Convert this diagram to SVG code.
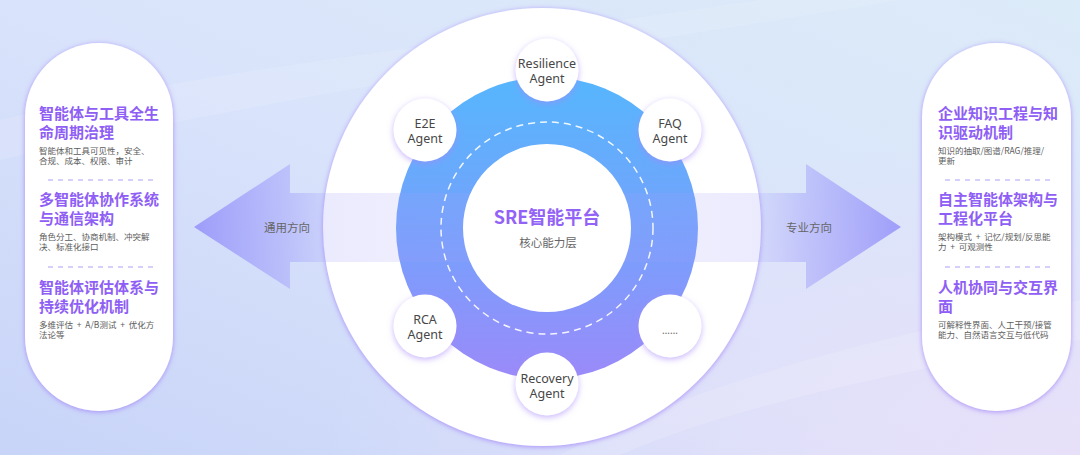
<svg xmlns="http://www.w3.org/2000/svg" width="1080" height="455" viewBox="0 0 1080 455">
<defs>
<linearGradient id="bg" x1="0" y1="1" x2="1" y2="0">
<stop offset="0" stop-color="#c8d4f8"/>
<stop offset="0.5" stop-color="#d9e3fb"/>
<stop offset="1" stop-color="#dcebf8"/>
</linearGradient>
<radialGradient id="bgBR" cx="1" cy="1" r="0.7">
<stop offset="0" stop-color="#e8e0f9" stop-opacity="1"/>
<stop offset="1" stop-color="#e8e0f9" stop-opacity="0"/>
</radialGradient>
<linearGradient id="ring" x1="0" y1="77" x2="0" y2="379" gradientUnits="userSpaceOnUse">
<stop offset="0" stop-color="#56b6fd"/>
<stop offset="0.5" stop-color="#74a2fc"/>
<stop offset="1" stop-color="#9b8af9"/>
</linearGradient>
<linearGradient id="arrL" x1="194" y1="0" x2="545" y2="0" gradientUnits="userSpaceOnUse">
<stop offset="0" stop-color="#8f8cfa" stop-opacity="0.8"/>
<stop offset="0.27" stop-color="#9693fa" stop-opacity="0.4"/>
<stop offset="0.38" stop-color="#9d9afa" stop-opacity="0.2"/>
<stop offset="1" stop-color="#a8a2fa" stop-opacity="0.14"/>
</linearGradient>
<linearGradient id="arrR" x1="901" y1="0" x2="545" y2="0" gradientUnits="userSpaceOnUse">
<stop offset="0" stop-color="#8f8cfa" stop-opacity="0.8"/>
<stop offset="0.27" stop-color="#9693fa" stop-opacity="0.4"/>
<stop offset="0.38" stop-color="#9d9afa" stop-opacity="0.2"/>
<stop offset="1" stop-color="#a8a2fa" stop-opacity="0.14"/>
</linearGradient>
<filter id="glow" x="-20%" y="-20%" width="140%" height="140%">
<feDropShadow dx="0" dy="1" stdDeviation="2.5" flood-color="#9d7cf8" flood-opacity="0.8"/>
</filter>
<filter id="aglow" x="-30%" y="-30%" width="160%" height="160%">
<feDropShadow dx="0" dy="2" stdDeviation="3" flood-color="#a585f9" flood-opacity="0.6"/>
</filter>
<style>
.t{font-family:"Noto Sans CJK SC","Noto Sans",sans-serif;font-weight:700;font-size:15px;fill:#8e5ef5}
.s{font-family:"Noto Sans CJK SC","Noto Sans",sans-serif;font-size:8.5px;fill:#5c5c5c}
.a{font-family:"Noto Sans","Noto Sans CJK SC",sans-serif;font-size:12.5px;fill:#474747;text-anchor:middle}
.dir{font-family:"Noto Sans CJK SC",sans-serif;font-size:11.5px;fill:#666;text-anchor:middle}
.div{stroke:#c6c1f7;stroke-width:1.6;stroke-dasharray:5 5}
.ac{fill:#fff;filter:url(#aglow)}
</style>
</defs>
<rect width="1080" height="455" fill="url(#bg)"/>
<rect width="1080" height="455" fill="url(#bgBR)"/>
<path d="M0,120 C250,60 500,40 760,0 L900,0 C600,50 300,90 0,160 Z" fill="#ffffff" opacity="0.12"/>
<path d="M560,455 C700,380 900,330 1080,300 L1080,340 C900,370 720,410 620,455 Z" fill="#ffffff" opacity="0.15"/>

<g id="platform">
<circle cx="542" cy="227" r="219" fill="#fff" filter="url(#glow)"/>
<circle cx="547" cy="228" r="151" fill="url(#ring)"/>
</g>

<g id="connectors">
<path d="M194,227 L290,164 L290,193 L545,193 L545,262 L290,262 L290,289 Z" fill="url(#arrL)"/>
<path d="M901,227 L806,164 L806,193 L545,193 L545,262 L806,262 L806,289 Z" fill="url(#arrR)"/>
<text class="dir" x="287" y="232">通用方向</text>
<text class="dir" x="809" y="232">专业方向</text>
</g>

<g id="core">
<circle cx="547" cy="228" r="84" fill="#fff"/>
<circle cx="547" cy="228" r="106" fill="none" stroke="#fff" stroke-width="1.5" stroke-dasharray="7 5" opacity="0.9"/>
<text x="547" y="224" text-anchor="middle" font-family="'Noto Sans CJK SC','Noto Sans',sans-serif" font-weight="700" font-size="18" fill="#9362f6">SRE智能平台</text>
<text x="548" y="247" text-anchor="middle" font-family="'Noto Sans CJK SC',sans-serif" font-size="11.5" fill="#666">核心能力层</text>
</g>

<g id="resilience"><circle class="ac" cx="547" cy="70" r="31.5"/><text class="a" x="547" y="68">Resilience</text><text class="a" x="547" y="83">Agent</text></g>
<g id="e2e"><circle class="ac" cx="425" cy="130" r="31.5"/><text class="a" x="425" y="128">E2E</text><text class="a" x="425" y="143">Agent</text></g>
<g id="faq"><circle class="ac" cx="670" cy="130" r="31.5"/><text class="a" x="670" y="128">FAQ</text><text class="a" x="670" y="143">Agent</text></g>
<g id="rca"><circle class="ac" cx="425" cy="326" r="31.5"/><text class="a" x="425" y="324">RCA</text><text class="a" x="425" y="339">Agent</text></g>
<g id="more"><circle class="ac" cx="670" cy="326" r="31.5"/><text x="670" y="334" text-anchor="middle" font-family="'Noto Sans',sans-serif" font-size="10" fill="#666">……</text></g>
<g id="recovery"><circle class="ac" cx="547" cy="384" r="31.5"/><text class="a" x="547" y="383">Recovery</text><text class="a" x="547" y="398">Agent</text></g>

<g id="left-panel">
<rect x="25" y="43" width="148" height="368" rx="74" fill="#fff" filter="url(#glow)"/>
<text class="t" x="39" y="119">智能体与工具全生</text>
<text class="t" x="39" y="138">命周期治理</text>
<text class="s" x="39" y="154">智能体和工具可见性，安全、</text>
<text class="s" x="39" y="164">合规、成本、权限、审计</text>
<line class="div" x1="48" y1="180" x2="158" y2="180"/>
<text class="t" x="39" y="205">多智能体协作系统</text>
<text class="t" x="39" y="224">与通信架构</text>
<text class="s" x="39" y="240">角色分工、协商机制、冲突解</text>
<text class="s" x="39" y="250">决、标准化接口</text>
<line class="div" x1="48" y1="267" x2="158" y2="267"/>
<text class="t" x="39" y="293">智能体评估体系与</text>
<text class="t" x="39" y="312">持续优化机制</text>
<text class="s" x="39" y="328">多维评估 &#160;+&#160; A/B测试 &#160;+&#160; 优化方</text>
<text class="s" x="39" y="338">法论等</text>
</g>

<g id="right-panel">
<rect x="922" y="43" width="149" height="368" rx="74.5" fill="#fff" filter="url(#glow)"/>
<text class="t" x="938" y="119">企业知识工程与知</text>
<text class="t" x="938" y="138">识驱动机制</text>
<text class="s" x="938" y="154">知识的抽取/图谱/RAG/推理/</text>
<text class="s" x="938" y="164">更新</text>
<line class="div" x1="945" y1="180" x2="1055" y2="180"/>
<text class="t" x="938" y="205">自主智能体架构与</text>
<text class="t" x="938" y="224">工程化平台</text>
<text class="s" x="938" y="240">架构模式 &#160;+&#160; 记忆/规划/反思能</text>
<text class="s" x="938" y="250">力 &#160;+&#160; 可观测性</text>
<line class="div" x1="945" y1="267" x2="1055" y2="267"/>
<text class="t" x="938" y="293">人机协同与交互界</text>
<text class="t" x="938" y="312">面</text>
<text class="s" x="938" y="328">可解释性界面、人工干预/接管</text>
<text class="s" x="938" y="338">能力、自然语言交互与低代码</text>
</g>
</svg>
